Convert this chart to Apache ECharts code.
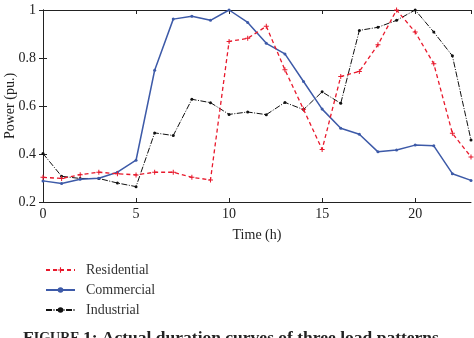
<!DOCTYPE html>
<html><head><meta charset="utf-8">
<script src="https://cdn.jsdelivr.net/npm/echarts@6/dist/echarts.min.js"></script>
<style>html,body{margin:0;padding:0;background:#fff}#c{width:474px;height:338px}</style>
</head><body><div id="c"></div>
<script>
var hours = [0,1,2,3,4,5,6,7,8,9,10,11,12,13,14,15,16,17,18,19,20,21,22,23];
var residential = [0.303,0.298,0.314,0.324,0.318,0.313,0.324,0.324,0.303,0.292,0.869,0.882,0.932,0.751,0.586,0.419,0.723,0.744,0.855,1.0,0.908,0.776,0.486,0.388];
var commercial = [0.288,0.277,0.295,0.299,0.324,0.374,0.749,0.962,0.974,0.957,1.0,0.948,0.861,0.817,0.702,0.587,0.507,0.482,0.409,0.417,0.437,0.434,0.318,0.290];
var industrial = [0.402,0.307,0.298,0.298,0.279,0.264,0.488,0.477,0.628,0.614,0.565,0.575,0.564,0.615,0.585,0.659,0.611,0.915,0.928,0.957,1.0,0.908,0.809,0.458];
var xTicks = [0,5,10,15,20];
var yTicks = [0.2,0.4,0.6,0.8,1];
var seriesNames = ['Residential','Commercial','Industrial'];

function pairs(v){ return hours.map(function(h,i){ return [h, v[i]]; }); }
var font = 'Liberation Serif';
var plus = 'path://M4,0H6V4H10V6H6V10H4V6H0V4H4Z';

var chart = echarts.init(document.getElementById('c'), null, {renderer:'canvas'});
var axisLine = {show:true, lineStyle:{color:'#222', width:1}};
chart.setOption({
  animation:false,
  backgroundColor:'#fff',
  grid:{left:43, right:3, top:10, bottom:136, show:false, containLabel:false, outerBoundsMode:'none'},
  legend:{
    orient:'vertical', left:40, top:258, itemWidth:29, itemHeight:7, itemGap:6,
    data:seriesNames,
    textStyle:{fontFamily:font, fontSize:14, color:'#333', padding:[0,0,0,6]}
  },
  xAxis:[{
    type:'value', min:0, max:23, interval:5, position:'bottom',
    axisLine:axisLine, axisTick:{show:true, inside:true, length:4, lineStyle:{color:'#222'}},
    axisLabel:{fontFamily:font, fontSize:14, color:'#222', margin:5, showMaxLabel:false,
      formatter:function(v){ return xTicks.indexOf(v)>=0 ? String(v) : ''; }},
    splitLine:{show:false},
    name:'Time (h)', nameLocation:'middle', nameGap:26,
    nameTextStyle:{fontFamily:font, fontSize:14, color:'#222'}
  },{
    type:'value', min:0, max:23, interval:5, position:'top',
    axisLine:axisLine, axisTick:{show:true, inside:true, length:4, lineStyle:{color:'#222'}},
    axisLabel:{show:false}, splitLine:{show:false}
  }],
  yAxis:[{
    type:'value', min:0.2, max:1, interval:0.2, position:'left',
    axisLine:axisLine, axisTick:{show:true, inside:true, length:4, lineStyle:{color:'#222'}},
    axisLabel:{fontFamily:font, fontSize:14, color:'#222', margin:7,
      formatter:function(v){ var r=Math.round(v*10)/10; return r===1?'1':r.toFixed(1); }},
    splitLine:{show:false}
  },{
    type:'value', min:0.2, max:1, interval:0.2, position:'right',
    axisLine:axisLine, axisTick:{show:true, inside:true, length:4, lineStyle:{color:'#222'}},
    axisLabel:{show:false}, splitLine:{show:false}
  }],
  series:[{
    name:seriesNames[0], type:'line', data:pairs(residential),
    symbol:plus, symbolSize:5, showSymbol:true,
    lineStyle:{color:'#e8192c', width:1.3, type:[4,3]},
    itemStyle:{color:'#e8192c'}, z:3
  },{
    name:seriesNames[1], type:'line', data:pairs(commercial),
    symbol:'circle', symbolSize:3,
    lineStyle:{color:'#3d5aa8', width:1.5, type:'solid'},
    itemStyle:{color:'#3d5aa8'}, z:2
  },{
    name:seriesNames[2], type:'line', data:pairs(industrial),
    symbol:'circle', symbolSize:3,
    lineStyle:{color:'#111', width:1, type:[6,1.5,1,1.5]},
    itemStyle:{color:'#111'}, z:1
  }],
  graphic:[{
    type:'text', x:10, y:106, rotation:Math.PI/2,
    style:{text:'Power (pu.)', fontFamily:font, fontSize:14, fill:'#222',
      textAlign:'center', textVerticalAlign:'middle'}
  },{
    type:'text', left:23, top:329,
    style:{
      text:'{a|F}{b|IGURE} {a|1: Actual duration curves of three load patterns}',
      rich:{
        a:{fontFamily:font, fontSize:17.5, fontWeight:'bold', fill:'#222'},
        b:{fontFamily:font, fontSize:14, fontWeight:'bold', fill:'#222'}
      }
    }
  }]
});
</script></body></html>
